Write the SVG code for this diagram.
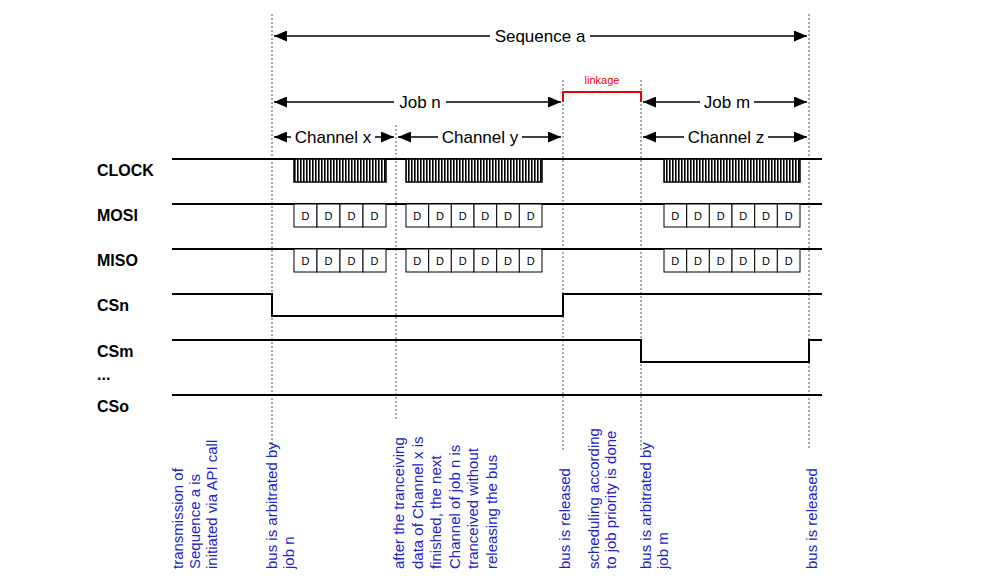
<svg xmlns="http://www.w3.org/2000/svg" width="993" height="579" viewBox="0 0 993 579">
<style>
.sig{fill:none;stroke:#000;stroke-width:2}
.dot{stroke:#555;stroke-width:1;stroke-dasharray:2,2}
.arr{stroke:#000;stroke-width:1.5;marker-start:url(#a);marker-end:url(#a)}
.lbl{font-family:"Liberation Sans",Arial,sans-serif;font-size:17px;fill:#000}
.tb{fill:#fff}
.sn{font-family:"Liberation Sans",Arial,sans-serif;font-size:16px;font-weight:bold}
.d{fill:#fff;stroke:#000;stroke-width:1}
.dt{font-family:"Liberation Sans",Arial,sans-serif;font-size:11px;text-anchor:middle}
.note{font-family:"Liberation Sans",Arial,sans-serif;font-size:15px;fill:#2222cc}
.clk{fill:url(#cp);stroke:#000;stroke-width:1.5}
</style>
<defs>
<marker id="a" viewBox="0 0 10 10" refX="10" refY="5" markerWidth="13" markerHeight="11" orient="auto-start-reverse" markerUnits="userSpaceOnUse" preserveAspectRatio="none"><path d="M0,0L10,5L0,10z"/></marker>
<pattern id="cp" width="3" height="30" patternUnits="userSpaceOnUse"><rect width="3" height="30" fill="#fff"/><rect width="1.6" height="30" fill="#000"/></pattern>
</defs>
<g id="guides">
<line class="dot" x1="272" y1="14" x2="272" y2="450"/>
<line class="dot" x1="396" y1="125" x2="396" y2="420"/>
<line class="dot" x1="563" y1="80" x2="563" y2="450"/>
<line class="dot" x1="641" y1="80" x2="641" y2="450"/>
<line class="dot" x1="809" y1="14" x2="809" y2="450"/>
</g>
<g id="connectors">
<line class="arr" x1="274" y1="36" x2="807" y2="36"/>
<line class="arr" x1="274" y1="102" x2="561" y2="102"/>
<line class="arr" x1="643" y1="102" x2="807" y2="102"/>
<line class="arr" x1="274" y1="137" x2="394" y2="137"/>
<line class="arr" x1="398" y1="137" x2="561" y2="137"/>
<line class="arr" x1="643" y1="137" x2="807" y2="137"/>
<path d="M563,102V92H641V102" fill="none" stroke="#e00" stroke-width="2"/>
</g>
<g id="labels">
<rect class="tb" x="490" y="26" width="100" height="20"/><text class="lbl" x="540" y="42" text-anchor="middle">Sequence a</text>
<rect class="tb" x="394" y="92" width="52" height="20"/><text class="lbl" x="420" y="108" text-anchor="middle">Job n</text>
<rect class="tb" x="700" y="92" width="54" height="20"/><text class="lbl" x="727" y="108" text-anchor="middle">Job m</text>
<rect class="tb" x="291" y="127" width="84" height="20"/><text class="lbl" x="333" y="143" text-anchor="middle">Channel x</text>
<rect class="tb" x="438" y="127" width="84" height="20"/><text class="lbl" x="480" y="143" text-anchor="middle">Channel y</text>
<rect class="tb" x="684" y="127" width="84" height="20"/><text class="lbl" x="726" y="143" text-anchor="middle">Channel z</text>
<text x="602" y="84" font-family="Liberation Sans,Arial,sans-serif" font-size="11" fill="#e00" text-anchor="middle">linkage</text>
</g>
<g id="signals">
<text class="sn" x="97" y="176">CLOCK</text>
<text class="sn" x="97" y="221">MOSI</text>
<text class="sn" x="97" y="266">MISO</text>
<text class="sn" x="97" y="311">CSn</text>
<text class="sn" x="97" y="357">CSm</text>
<text class="sn" x="97" y="380">...</text>
<text class="sn" x="97" y="412">CSo</text>
<line class="sig" x1="172" y1="159" x2="822" y2="159"/>
<line class="sig" x1="172" y1="204" x2="822" y2="204"/>
<line class="sig" x1="172" y1="249" x2="822" y2="249"/>
<path class="sig" d="M172,294H272V316H563V294H822"/>
<path class="sig" d="M172,340H641V362H809V340H822"/>
<line class="sig" x1="172" y1="395" x2="822" y2="395"/>
<rect class="clk" x="294" y="159" width="92" height="23"/>
<rect class="clk" x="406" y="159" width="136" height="23"/>
<rect class="clk" x="664" y="159" width="136" height="23"/>
</g>
<g id="mosi">
<g id="mx"><rect class="d" x="294" y="204" width="23" height="23"/><rect class="d" x="317" y="204" width="23" height="23"/><rect class="d" x="340" y="204" width="23" height="23"/><rect class="d" x="363" y="204" width="23" height="23"/>
<text class="dt" x="305.5" y="220">D</text><text class="dt" x="328.5" y="220">D</text><text class="dt" x="351.5" y="220">D</text><text class="dt" x="374.5" y="220">D</text></g>
<g id="my"><rect class="d" x="406" y="204" width="22.7" height="23"/><rect class="d" x="428.7" y="204" width="22.7" height="23"/><rect class="d" x="451.3" y="204" width="22.7" height="23"/><rect class="d" x="474" y="204" width="22.7" height="23"/><rect class="d" x="496.7" y="204" width="22.7" height="23"/><rect class="d" x="519.3" y="204" width="22.7" height="23"/>
<text class="dt" x="417.3" y="220">D</text><text class="dt" x="440" y="220">D</text><text class="dt" x="462.7" y="220">D</text><text class="dt" x="485.3" y="220">D</text><text class="dt" x="508" y="220">D</text><text class="dt" x="530.7" y="220">D</text></g>
<use href="#my" x="258"/>
</g>
<g id="miso">
<use href="#mx" y="45"/><use href="#my" y="45"/><use href="#my" x="258" y="45"/>
</g>
<g id="notes" class="note">
<text class="note" transform="translate(183,569) rotate(-90)"><tspan x="0" dy="0">transmission of</tspan><tspan x="0" dy="17">Sequence a is</tspan><tspan x="0" dy="17">initiated via API call</tspan></text>
<text class="note" transform="translate(277,569) rotate(-90)"><tspan x="0" dy="0">bus is arbitrated by</tspan><tspan x="0" dy="17">job n</tspan></text>
<text class="note" transform="translate(404,569) rotate(-90)"><tspan x="0" dy="0">after the tranceiving</tspan><tspan x="0" dy="18.5">data of Channel x is</tspan><tspan x="0" dy="18.5">finished, the next</tspan><tspan x="0" dy="18.5">Channel of job n is</tspan><tspan x="0" dy="18.5">tranceived without</tspan><tspan x="0" dy="18.5">releasing the bus</tspan></text>
<text class="note" transform="translate(570,569) rotate(-90)">bus is released</text>
<text class="note" transform="translate(599,569) rotate(-90)"><tspan x="0" dy="0">scheduling according</tspan><tspan x="0" dy="17">to job priority is done</tspan></text>
<text class="note" transform="translate(651,569) rotate(-90)"><tspan x="0" dy="0">bus is arbitrated by</tspan><tspan x="0" dy="17">job m</tspan></text>
<text class="note" transform="translate(817,569) rotate(-90)">bus is released</text>
</g>
</svg>
